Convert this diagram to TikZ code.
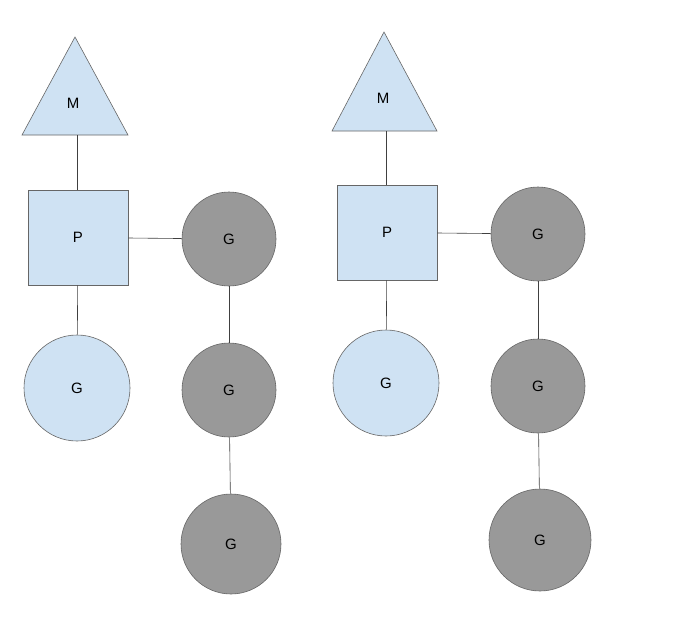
\documentclass[tikz,border=0pt]{standalone}
\usepackage{fontspec}
\setmainfont{Liberation Sans}
\definecolor{lbc}{HTML}{CFE2F3}
\definecolor{grc}{HTML}{999999}
\begin{document}
\begin{tikzpicture}[x=1pt,y=-1pt,
 lb/.style={draw=black!60,fill=lbc,line width=0.6pt,font=\fontsize{15}{17}\selectfont},
 gr/.style={circle,draw=black!60,fill=grc,line width=0.6pt,font=\fontsize{15}{17}\selectfont,inner sep=0pt},
 ln/.style={draw=black!75,line width=0.6pt}]
\useasboundingbox (0,0) rectangle (682,635);
% left
\draw[lb] (75,37) -- (128,135) -- (22,135) -- cycle;
\node[font=\fontsize{15}{17}\selectfont] (m1) at (73,103) {M};
\node[lb,minimum width=100pt,minimum height=95pt,inner sep=0pt] (p1) at (78,237.5) {P};
\node[lb,circle,minimum size=106pt,inner sep=0pt] (b1) at (77,388) {G};
\node[gr,minimum size=94pt] (g11) at (229,239) {G};
\node[gr,minimum size=94pt] (g12) at (229,390) {G};
\node[gr,minimum size=100pt] (g13) at (231,544) {G};
\coordinate (t1) at (77,135);
\draw[ln] (t1) -- (p1.north -| t1);
\draw[ln] (p1) -- (g11);
\draw[ln] (p1) -- (b1);
\draw[ln] (g11) -- (g12);
\draw[ln] (g12) -- (g13);
% right
\draw[lb] (384,32) -- (437,131) -- (332,131) -- cycle;
\node[font=\fontsize{15}{17}\selectfont] (m2) at (383,98) {M};
\node[lb,minimum width=100pt,minimum height=95pt,inner sep=0pt] (p2) at (387,232.5) {P};
\node[lb,circle,minimum size=106pt,inner sep=0pt] (b2) at (386,383) {G};
\node[gr,minimum size=94pt] (g21) at (538,234) {G};
\node[gr,minimum size=94pt] (g22) at (538,386) {G};
\node[gr,minimum size=102pt] (g23) at (540,540) {G};
\coordinate (t2) at (386,131);
\draw[ln] (t2) -- (p2.north -| t2);
\draw[ln] (p2) -- (g21);
\draw[ln] (p2) -- (b2);
\draw[ln] (g21) -- (g22);
\draw[ln] (g22) -- (g23);
\end{tikzpicture}
\end{document}
